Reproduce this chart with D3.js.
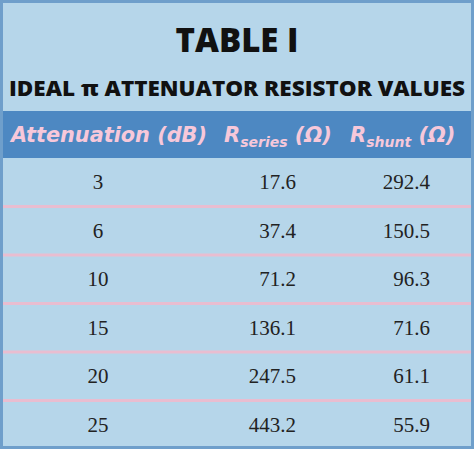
<!DOCTYPE html>
<html><head><meta charset="utf-8">
<script src="https://cdn.jsdelivr.net/npm/d3@7"></script>
<style>body{margin:0;background:#fff}</style>
</head><body><div id="chart"></div>
<script>
var attenuation = ["3", "6", "10", "15", "20", "25"];
var rSeries = ["17.6", "37.4", "71.2", "136.1", "247.5", "443.2"];
var rShunt = ["292.4", "150.5", "96.3", "71.6", "61.1", "55.9"];

var W = 474, H = 449;
var svg = d3.select("#chart").append("svg").attr("width", W).attr("height", H);

svg.append("rect").attr("x", 1.5).attr("y", 1.5).attr("width", W - 3).attr("height", H - 3)
    .attr("fill", "#b6d6ea").attr("stroke", "#6f9fcb").attr("stroke-width", 3);

svg.append("text").attr("x", W / 2).attr("y", 52).attr("text-anchor", "middle")
    .style("font", "800 33px 'Open Sans', sans-serif").attr("fill", "#111").text("TABLE I");
svg.append("text").attr("x", W / 2).attr("y", 96).attr("text-anchor", "middle")
    .style("font", "800 21px 'Open Sans', sans-serif").attr("fill", "#111")
    .attr("textLength", 456).attr("lengthAdjust", "spacingAndGlyphs")
    .text("IDEAL π ATTENUATOR RESISTOR VALUES");

// header band
svg.append("rect").attr("x", 3).attr("y", 111).attr("width", W - 6).attr("height", 47).attr("fill", "#4d88c2");
var hf = "italic bold 21px 'DejaVu Sans', sans-serif", pink = "#f7c8da";
svg.append("text").attr("x", 109).attr("y", 142).attr("text-anchor", "middle")
    .style("font", hf).attr("fill", pink).attr("textLength", 196).attr("lengthAdjust", "spacingAndGlyphs")
    .text("Attenuation (dB)");
var h2 = svg.append("text").attr("x", 224).attr("y", 142).style("font", hf).attr("fill", pink);
h2.append("tspan").text("R");
h2.append("tspan").attr("dy", 5).style("font-size", "14px").text("series");
h2.append("tspan").attr("dy", -5).text(" (Ω)");
var h3 = svg.append("text").attr("x", 350).attr("y", 142).style("font", hf).attr("fill", pink);
h3.append("tspan").text("R");
h3.append("tspan").attr("dy", 5).style("font-size", "14px").text("shunt");
h3.append("tspan").attr("dy", -5).text(" (Ω)");

var y = d3.scaleBand().domain(d3.range(attenuation.length)).range([158, 449]);

var rows = svg.selectAll(".row").data(attenuation).enter().append("g").attr("class", "row")
    .attr("transform", function(d, i) { return "translate(0," + y(i) + ")"; });

rows.filter(function(d, i) { return i > 0; }).append("rect")
    .attr("x", 3).attr("y", -1.5).attr("width", W - 6).attr("height", 3).attr("fill", "#e9bdd0");

var cf = "21px 'Liberation Serif', serif";
rows.append("text").attr("x", 98).attr("y", 31).attr("text-anchor", "middle")
    .style("font", cf).attr("fill", "#222").text(function(d) { return d; });
rows.append("text").attr("x", 296).attr("y", 31).attr("text-anchor", "end")
    .style("font", cf).attr("fill", "#222").text(function(d, i) { return rSeries[i]; });
rows.append("text").attr("x", 430).attr("y", 31).attr("text-anchor", "end")
    .style("font", cf).attr("fill", "#222").text(function(d, i) { return rShunt[i]; });
</script></body></html>
